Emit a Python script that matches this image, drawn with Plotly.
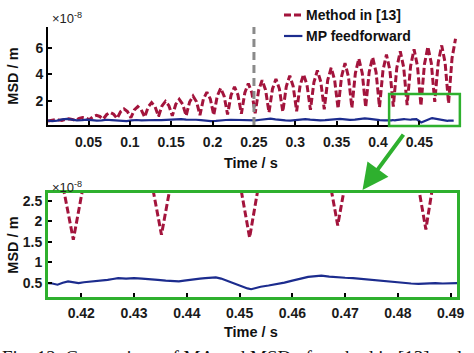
import numpy as np
import plotly.graph_objects as go

# ---------------- data (values in units of 1e-8 m) ----------------
# "Method in [13]" : troughs / peaks of each oscillation cycle
red_trough_t = [0.0010, 0.0177, 0.0344, 0.0511, 0.0678, 0.0845, 0.1012, 0.1179, 0.1346, 0.1513,
                0.1680, 0.1847, 0.2014, 0.2181, 0.2348, 0.2515, 0.2682, 0.2849, 0.3016, 0.3183,
                0.3350, 0.3517, 0.3684, 0.3851, 0.4018, 0.4185, 0.4352, 0.4519, 0.4686, 0.4853]
red_trough_v = [0.45, 0.50, 0.50, 0.55, 0.60, 0.65, 0.70, 0.75, 0.80, 0.85,
                0.85, 0.90, 0.90, 0.95, 1.00, 1.05, 1.10, 1.15, 1.20, 1.30,
                1.35, 1.40, 1.45, 1.50, 1.50, 1.55, 1.67, 1.60, 1.90, 1.80]
red_rise_v = [0.52, 0.58, 0.65, 0.78, 0.95, 1.16, 1.30, 1.52, 1.60, 1.73,
              1.90, 2.13, 2.34, 2.42, 2.61, 2.80, 2.89, 3.08, 3.16, 3.40,
              3.56, 3.82, 4.08, 4.16, 4.30, 4.49, 4.63, 4.75, 4.91, 5.23]
red_peak_t = [0.0094, 0.0261, 0.0428, 0.0595, 0.0762, 0.0929, 0.1096, 0.1263, 0.1430, 0.1597,
              0.1764, 0.1931, 0.2098, 0.2265, 0.2432, 0.2599, 0.2766, 0.2933, 0.3100, 0.3267,
              0.3434, 0.3601, 0.3768, 0.3935, 0.4102, 0.4269, 0.4436, 0.4603, 0.4770, 0.4937]
red_peak_v = [0.55, 0.62, 0.72, 0.88, 1.10, 1.38, 1.55, 1.85, 1.95, 2.10,
              2.35, 2.65, 2.95, 3.05, 3.30, 3.55, 3.65, 3.90, 4.00, 4.30,
              4.50, 4.85, 5.20, 5.30, 5.50, 5.75, 5.90, 6.10, 6.20, 6.70]
red_fall_v = [0.54, 0.58, 0.67, 0.80, 0.97, 1.18, 1.31, 1.54, 1.62, 1.73,
              1.92, 2.13, 2.35, 2.44, 2.63, 2.82, 2.90, 3.09, 3.19, 3.42,
              3.57, 3.83, 4.09, 4.16, 4.32, 4.53, 4.61, 4.84, 4.88]

# "MP feedforward": coarse samples over the whole run, then fine samples in the zoom window
blue_coarse_v = [0.50, 0.45, 0.48, 0.58, 0.62, 0.55, 0.50, 0.52, 0.56, 0.52,
                 0.48, 0.50, 0.55, 0.52, 0.50, 0.47, 0.45, 0.50, 0.53, 0.50,
                 0.52, 0.55, 0.53, 0.52, 0.55, 0.58, 0.62, 0.60, 0.56, 0.58,
                 0.55, 0.52, 0.48, 0.45, 0.47, 0.52, 0.53, 0.55, 0.54, 0.52,
                 0.50, 0.48, 0.50, 0.55, 0.60, 0.64, 0.58, 0.52, 0.50, 0.48,
                 0.52, 0.55, 0.60, 0.56, 0.52, 0.50, 0.52, 0.55, 0.60, 0.62,
                 0.58, 0.54, 0.56, 0.60, 0.65, 0.62, 0.56, 0.52, 0.50]
blue_coarse_t = list(np.round(np.arange(len(blue_coarse_v)) * 0.006, 4))
blue_fine_t = [0.4120, 0.4135, 0.4145, 0.4155, 0.4165, 0.4175, 0.4185, 0.4195, 0.4205, 0.4215,
               0.4225, 0.4237, 0.4250, 0.4260, 0.4270, 0.4285, 0.4300, 0.4315, 0.4330, 0.4345,
               0.4360, 0.4375, 0.4385, 0.4395, 0.4410, 0.4425, 0.4435, 0.4445, 0.4455, 0.4465,
               0.4475, 0.4485, 0.4495, 0.4505, 0.4515, 0.4522, 0.4530, 0.4540, 0.4555, 0.4570,
               0.4585, 0.4600, 0.4615, 0.4630, 0.4645, 0.4655, 0.4670, 0.4685, 0.4700, 0.4715,
               0.4730, 0.4746, 0.4760, 0.4777, 0.4790, 0.4808, 0.4825, 0.4839, 0.4855, 0.4871,
               0.4885, 0.4900, 0.4915]
blue_fine_v = [0.50, 0.49, 0.48, 0.45, 0.50, 0.53, 0.51, 0.49, 0.51, 0.52,
               0.53, 0.55, 0.57, 0.59, 0.61, 0.60, 0.61, 0.60, 0.59, 0.57,
               0.55, 0.54, 0.53, 0.55, 0.58, 0.60, 0.61, 0.62, 0.63, 0.60,
               0.55, 0.50, 0.46, 0.40, 0.36, 0.34, 0.37, 0.40, 0.43, 0.46,
               0.50, 0.55, 0.59, 0.64, 0.66, 0.67, 0.65, 0.63, 0.62, 0.61,
               0.59, 0.58, 0.56, 0.54, 0.52, 0.50, 0.48, 0.47, 0.48, 0.49,
               0.48, 0.49, 0.49]

top_xticks = [0.05, 0.1, 0.15, 0.2, 0.25, 0.3, 0.35, 0.4, 0.45]
top_yticks = [2, 4, 6]
bot_xticks = [0.42, 0.43, 0.44, 0.45, 0.46, 0.47, 0.48, 0.49]
bot_yticks = [0.5, 1, 1.5, 2, 2.5]
marker_t = 0.25
series_names = ["Method in [13]", "MP feedforward"]

# ---------------- build series ----------------
red_t, red_v = [], []
for k in range(len(red_trough_t)):
    red_t += [red_trough_t[k], (red_trough_t[k] + red_peak_t[k]) / 2, red_peak_t[k]]
    red_v += [red_trough_v[k], red_rise_v[k], red_peak_v[k]]
    if k < len(red_fall_v):
        red_t.append((red_peak_t[k] + red_trough_t[k + 1]) / 2)
        red_v.append(red_fall_v[k])

blue_t = [t for t in blue_coarse_t if t < blue_fine_t[0]] + blue_fine_t
blue_v = [v for t, v in zip(blue_coarse_t, blue_coarse_v) if t < blue_fine_t[0]] + blue_fine_v

RED = "#a3143c"
BLUE = "#1c2c8e"
GREEN = "#2eb02e"
FONT = "Liberation Sans"
RED_LINE = dict(color=RED, width=3, dash="7px,3px")
BLUE_LINE = dict(color=BLUE, width=2.2)

fig = go.Figure()
for xa, ya in [("x", "y"), ("x2", "y2")]:
    fig.add_trace(go.Scatter(x=red_t, y=red_v, mode="lines", name=series_names[0],
                             line=RED_LINE, xaxis=xa, yaxis=ya, showlegend=False))
    fig.add_trace(go.Scatter(x=blue_t, y=blue_v, mode="lines", name=series_names[1],
                             line=BLUE_LINE, xaxis=xa, yaxis=ya, showlegend=False))

tickfont = dict(family=FONT, size=14, color="#1a1a1a", weight="bold")
common = dict(showgrid=False, zeroline=False, ticks="inside", ticklen=4, tickwidth=2,
              tickcolor="black", tickfont=tickfont)

fig.update_layout(
    width=474, height=353,
    margin=dict(l=48, r=10, t=27, b=56),
    paper_bgcolor="white", plot_bgcolor="white",
    showlegend=False,
    xaxis=dict(domain=[0, 1], range=[0.001, 0.4955], tickvals=top_xticks,
               ticktext=[f"{v:g}" for v in top_xticks], showline=True, linecolor="black",
               linewidth=2, anchor="y", ticklabelstandoff=3, **common),
    yaxis=dict(domain=[0.637, 1], range=[0.15, 7.6], tickvals=top_yticks,
               showline=True, linecolor="black", linewidth=2, anchor="x", **common),
    xaxis2=dict(domain=[0, 1], range=[0.4137, 0.4912], tickvals=bot_xticks,
                ticktext=[f"{v:g}" for v in bot_xticks], showline=True, linecolor=GREEN,
                linewidth=3, mirror=True, anchor="y2", ticklabelstandoff=1, **common),
    yaxis2=dict(domain=[0, 0.385], range=[0.15, 2.69], tickvals=bot_yticks,
                ticktext=[f"{v:g}" for v in bot_yticks], showline=True, linecolor=GREEN,
                linewidth=3, mirror=True, anchor="x2", **common),
)

# vertical dashed marker at t = 0.25
fig.add_shape(type="line", xref="x", yref="y domain", x0=marker_t, x1=marker_t, y0=0, y1=1,
              line=dict(color="#8a8a8a", width=3, dash="8px,5px"))
# green zoom box in top panel
fig.add_shape(type="rect", xref="paper", yref="paper", x0=0.834, x1=1.007, y0=0.633, y1=0.752,
              line=dict(color=GREEN, width=2.5))

# legend (drawn by hand so spacing matches)
leg_font = dict(family=FONT, size=14, color="#111", weight="bold")
for name, line, yy in [(series_names[0], RED_LINE, 1.0444), (series_names[1], BLUE_LINE, 0.9667)]:
    fig.add_shape(type="line", xref="paper", yref="paper", x0=0.577, x1=0.622, y0=yy, y1=yy,
                  line=line)
    fig.add_annotation(xref="paper", yref="paper", showarrow=False, x=0.625, y=yy,
                       xanchor="left", yanchor="middle", text=name, font=leg_font)

ann_font = dict(family=FONT, size=14.5, color="#111", weight="bold")
annotations = [
    dict(text="MSD / m", x=-0.0865, y=0.8185, textangle=-90),
    dict(text="MSD / m", x=-0.0865, y=0.1925, textangle=-90),
    dict(text="Time / s", x=0.497, y=0.496),
    dict(text="Time / s", x=0.497, y=-0.13),
]
for a in annotations:
    fig.add_annotation(xref="paper", yref="paper", showarrow=False, font=ann_font,
                       xanchor="center", yanchor="middle", **a)
for yy in [1.033, 0.407]:
    fig.add_annotation(xref="paper", yref="paper", showarrow=False, x=0.004, y=yy,
                       xanchor="left", yanchor="middle", text="×10<sup>-8</sup>",
                       font=dict(family=FONT, size=13, color="#222"))
# green arrow
fig.add_annotation(xref="paper", yref="paper", x=0.769, y=0.396, ax=42, ay=-57,
                   showarrow=True, arrowhead=2, arrowsize=1.3, arrowwidth=4,
                   arrowcolor=GREEN, text="")
# caption (cut off at the bottom of the image, as in the source)
fig.add_annotation(xref="paper", yref="paper", showarrow=False, x=-0.117, y=-0.178,
                   xanchor="left", yanchor="top",
                   text="Fig. 12. Comparison of MA and MSD of method in [13] and",
                   font=dict(family="Liberation Serif", size=19, color="#111"))

fig.write_html("out.html")
